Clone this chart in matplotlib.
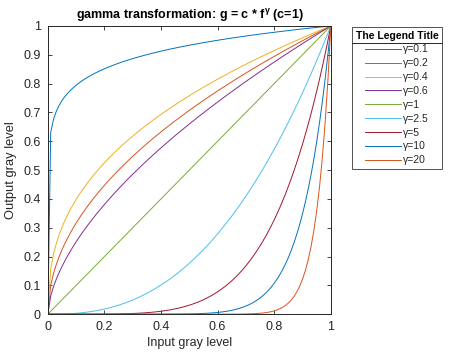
import numpy as np
import matplotlib
matplotlib.use("Agg")
import matplotlib.pyplot as plt
from matplotlib.lines import Line2D

plt.rcParams['font.family'] = ['Liberation Sans', 'DejaVu Sans']

# gamma of each drawn curve (c = 1)
# note: the curve labelled 0.2 in the legend is actually drawn with gamma ~0.5
gammas = [0.1, 0.5, 0.4, 0.6, 1, 2.5, 5, 10, 20]
labels = ['γ=0.1', 'γ=0.2', 'γ=0.4', 'γ=0.6', 'γ=1', 'γ=2.5', 'γ=5', 'γ=10', 'γ=20']
c = 1
# input gray level grid (MATLAB style 0:0.01:1)
f = np.linspace(0, 1, 101)

# MATLAB default colour order
colors = ['#0072BD', '#D95319', '#EDB120', '#7E2F8E', '#77AC30',
          '#4DBEEE', '#A2142F', '#0072BD', '#D95319']

xticks = [0, 0.2, 0.4, 0.6, 0.8, 1]
yticks = [0, 0.1, 0.2, 0.3, 0.4, 0.5, 0.6, 0.7, 0.8, 0.9, 1]

fig = plt.figure(figsize=(4.74, 3.55), dpi=100)
ax = fig.add_axes([0.101, 0.115, 0.597, 0.812])

for g, lab, col in zip(gammas, labels, colors):
    ax.plot(f, c * f ** g, color=col, linewidth=0.7, label=lab)

ax.set_xlim(0, 1)
ax.set_ylim(0, 1)
ax.set_xticks(xticks)
ax.set_xticklabels(['0', '0.2', '0.4', '0.6', '0.8', '1'])
ax.set_yticks(yticks)
ax.set_yticklabels(['0', '0.1', '0.2', '0.3', '0.4', '0.5', '0.6', '0.7', '0.8', '0.9', '1'])
ax.tick_params(direction='in', length=3, width=0.6, top=True, right=True,
               labelsize=9, colors='#262626', pad=5)
for s in ax.spines.values():
    s.set_color('#262626')
    s.set_linewidth(0.7)

ax.set_xlabel('Input gray level', fontsize=9, color='#262626', labelpad=3)
ax.set_ylabel('Output gray level', fontsize=9.3, color='#262626', labelpad=5)
ax.set_title(r'gamma transformation: g = c * f$^{\mathregular{\gamma}}$ (c=1)',
             fontsize=9, fontweight='bold', color='black', pad=5)

leg = ax.legend(title='The Legend Title', loc='upper left',
                bbox_to_anchor=(352 / 474, 1 - 27 / 355), bbox_transform=fig.transFigure,
                fontsize=7.5, title_fontproperties={'weight': 'bold', 'size': 7.5},
                frameon=True, fancybox=False, edgecolor='#262626',
                handlelength=3.4, handletextpad=0.2, labelspacing=0.37,
                borderaxespad=0, borderpad=0.35)
leg.get_frame().set_linewidth(0.7)
for t in leg.get_texts():
    t.set_color('#262626')

# separator line under the legend title (MATLAB style)
fig.canvas.draw()
bb = leg.get_window_extent()
tb = leg.get_title().get_window_extent()
ysep = tb.y0 - 2
inv = fig.transFigure.inverted()
(x0, y0) = inv.transform((bb.x0, ysep))
(x1, _) = inv.transform((bb.x1, ysep))
fig.add_artist(Line2D([x0, x1], [y0, y0], color='#262626', linewidth=0.7,
                      transform=fig.transFigure))

fig.savefig('out.png', dpi=100)
